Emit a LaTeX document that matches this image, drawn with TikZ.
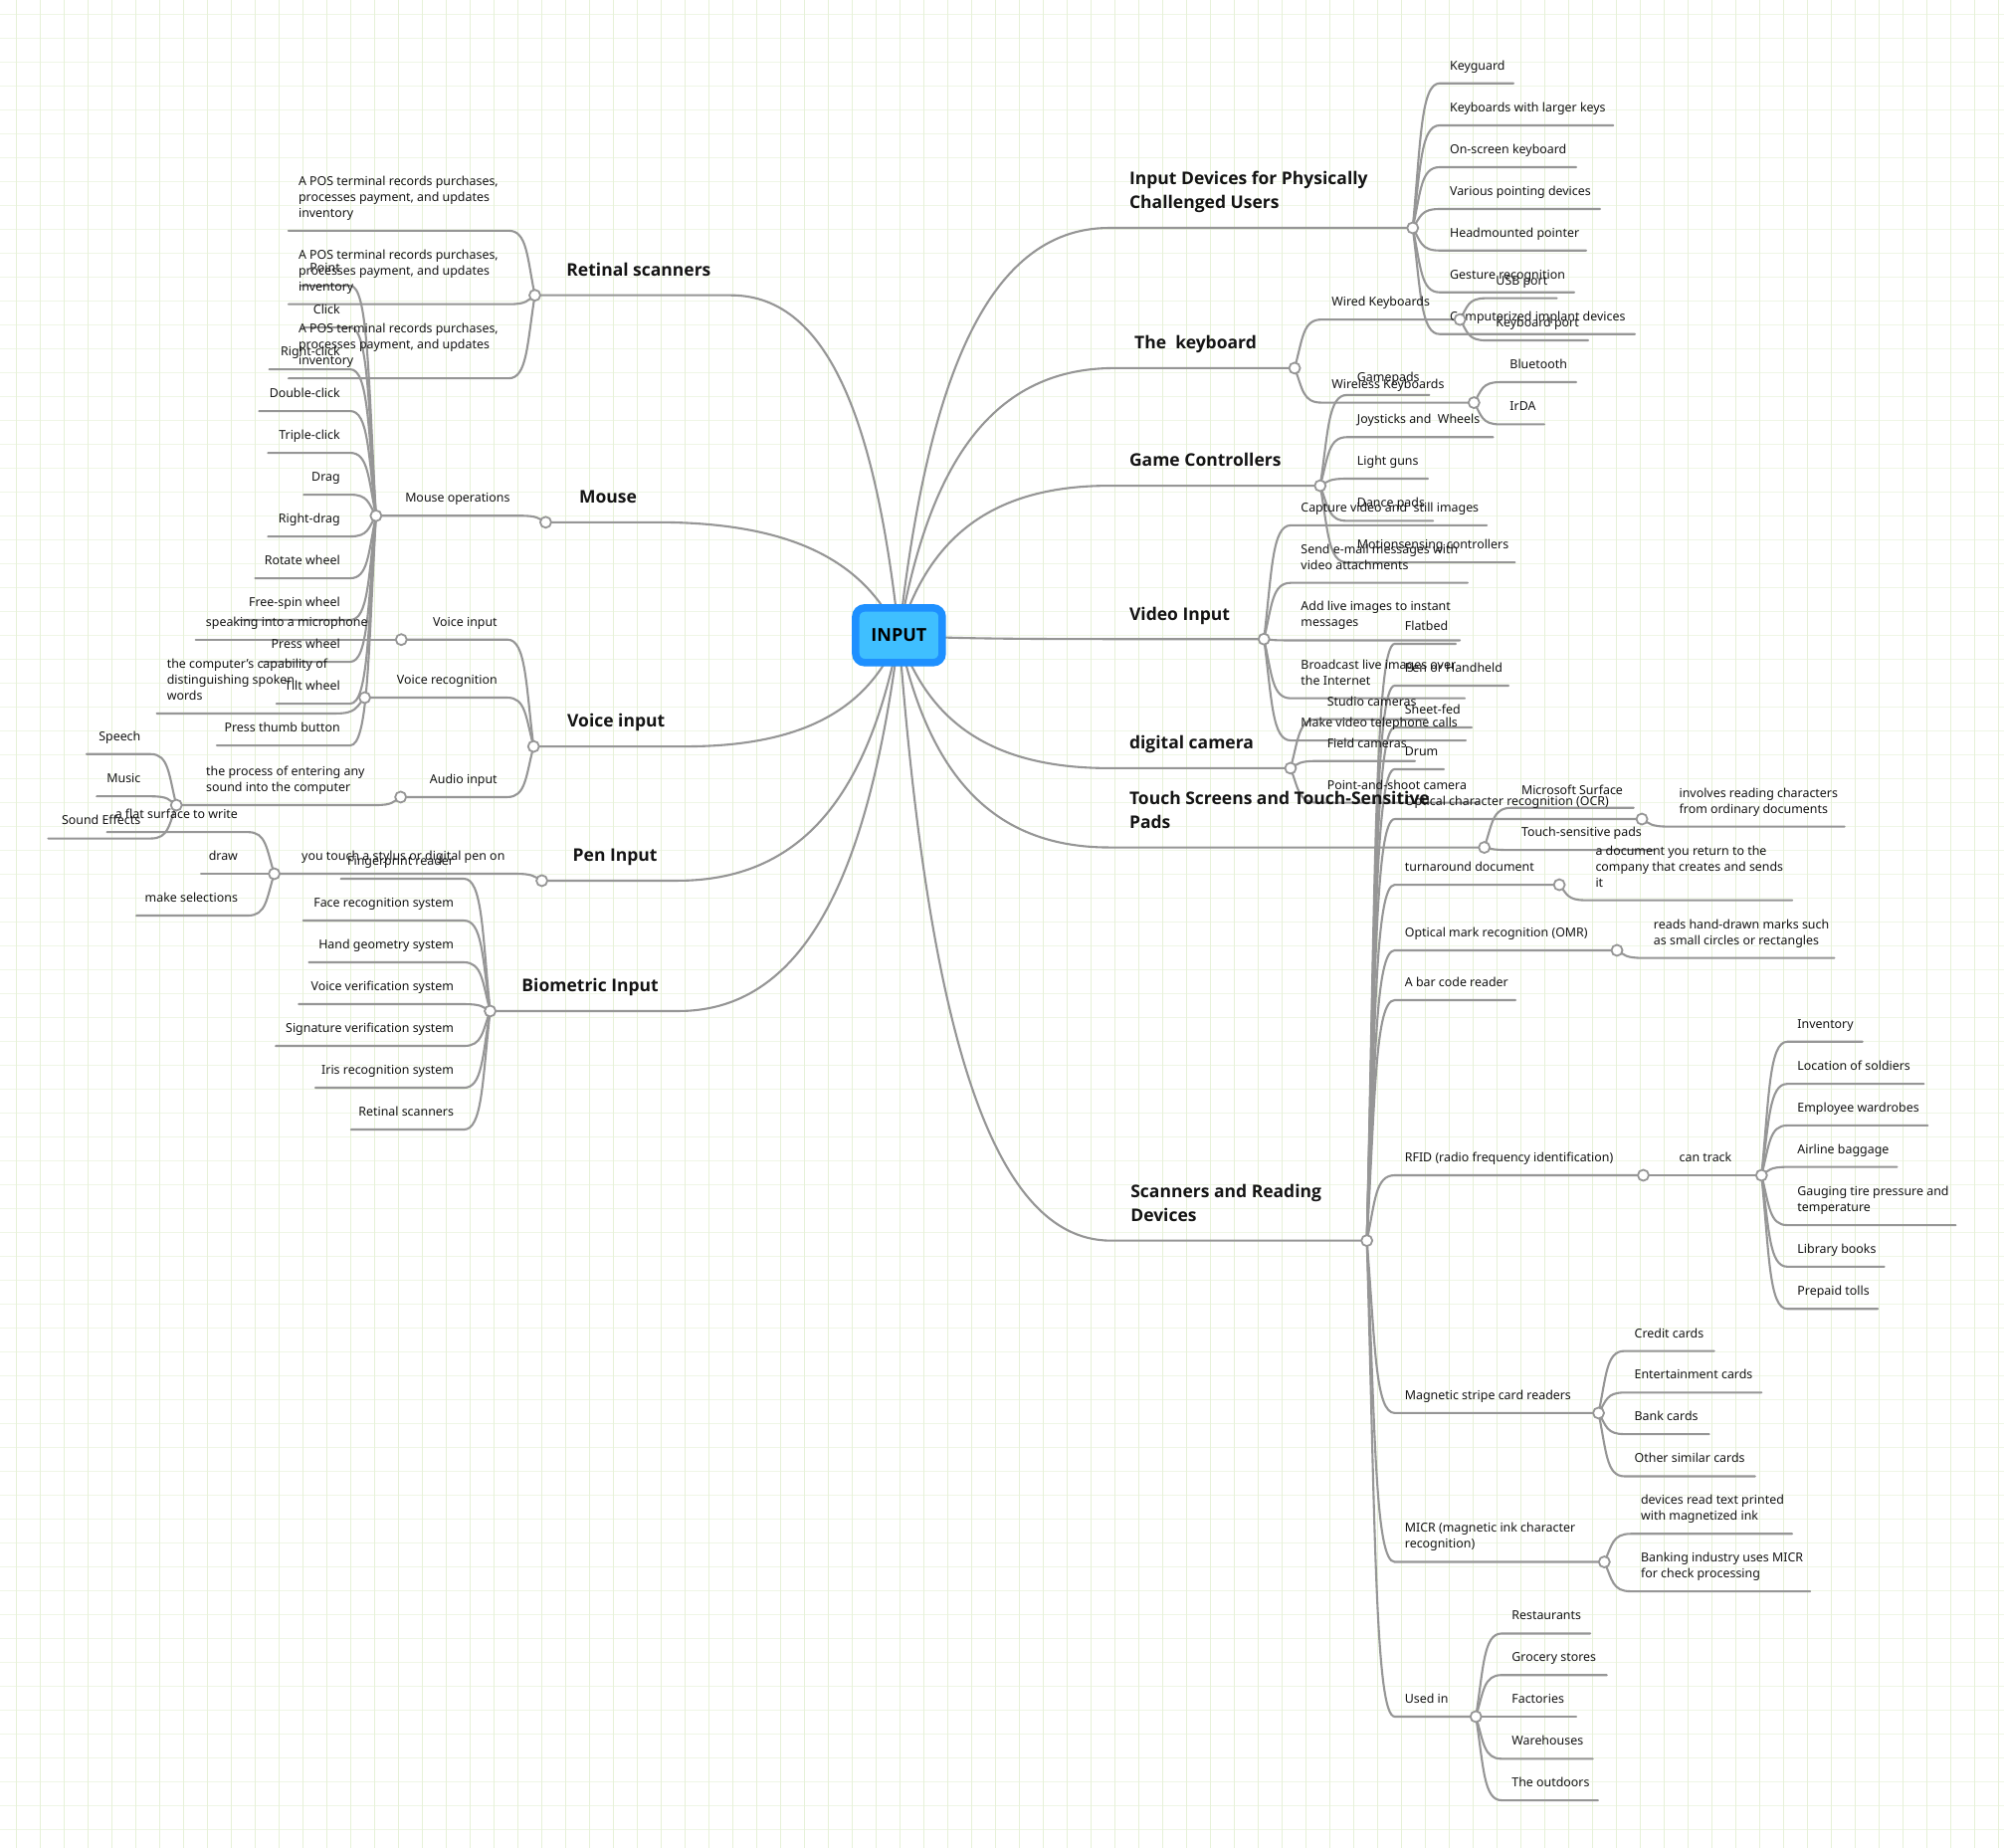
\documentclass[tikz,border=0pt]{standalone}
\usepackage{fontspec}
\setmainfont{Noto Sans}
\newfontfamily\topicfont{Open Sans}
\usepackage{xcolor}
\definecolor{input-blue}{HTML}{1E90FF}
\definecolor{input-sky}{HTML}{3FBFFF}
\definecolor{link-gray}{HTML}{969696}
\definecolor{grid-green}{HTML}{E6F1D8}
\definecolor{grid-pale}{HTML}{EFF6E6}
\definecolor{ink-black}{HTML}{141414}
\usepackage{tikz}
\usetikzlibrary{calc,backgrounds}

\tikzset{
  rootbox/.style={draw=input-blue,fill=input-sky,line width=7.5pt,rounded corners=9pt,
    minimum width=87pt,minimum height=55pt,inner sep=0pt,text=black,font=\fontsize{18}{24}\topicfont\bfseries},
  topic/.style={inner xsep=20pt,inner ysep=11.7pt,text=ink-black,font=\fontsize{17.5}{24}\topicfont\bfseries},
  leaf/.style={inner xsep=10pt,inner ysep=8.6pt,text=ink-black,font=\fontsize{12.4}{16}\selectfont},
  junc/.style={circle,draw=link-gray,fill=white,line width=1.8pt,minimum size=11pt,inner sep=0pt},
  link/.style={draw=link-gray,line width=2.1pt,line cap=round},
  gridline/.style={line width=1.2pt}
}

% bent connector: from a junction, round to a corner of the text, along its foot
\newcommand{\bendlink}[3]{%
  \begin{scope}[on background layer]
    \draw[link] let \p1=(#1.center),\p2=(#2) in (\p1)
      .. controls ({\x1+0.3*(\x2-\x1)},{\y1+0.6*(\y2-\y1)}) and ({\x1+0.3*(\x2-\x1)},\y2) .. (\p2) -- (#3);
  \end{scope}}
% leaves: [align]{name}{parent}{near x}{far x}{y}{text}
\newcommand{\leafR}[7][l]{%
  \pgfmathsetlengthmacro{\leafw}{(#5-#4)*1.2844-20}%
  \node[leaf,anchor=south west] (#2) at (#4,#6) {\makebox[\leafw][#1]{\begin{tabular}{@{}l@{}}#7\end{tabular}}};
  \bendlink{#3}{#2.south west}{#2.south east}}
\newcommand{\leafL}[7][r]{%
  \pgfmathsetlengthmacro{\leafw}{(#4-#5)*1.2844-20}%
  \node[leaf,anchor=south east] (#2) at (#4,#6) {\makebox[\leafw][#1]{\begin{tabular}{@{}l@{}}#7\end{tabular}}};
  \bendlink{#3}{#2.south east}{#2.south west}}
% main branches: {name}{near x}{junction x}{y}{text}
\newcommand{\topicR}[5]{%
  \node[topic,anchor=south west] (#1) at (#2,#4) {\begin{tabular}{@{}l@{}}#5\end{tabular}};
  \node[junc] (#1j) at (#3,#4) {};
  \begin{scope}[on background layer]
    \draw[link] let \p1=(root.center),\p2=(#1.south west) in (\p1)
      .. controls ({\x1+0.13*(\x2-\x1)},{\y1+0.6*(\y2-\y1)}) and ({\x1+0.4*(\x2-\x1)},\y2) .. (\p2) -- (#1j.center);
  \end{scope}}
\newcommand{\topicL}[5]{%
  \node[topic,anchor=south east] (#1) at (#2,#4) {\begin{tabular}{@{}l@{}}#5\end{tabular}};
  \node[junc] (#1j) at (#3,#4) {};
  \begin{scope}[on background layer]
    \draw[link] let \p1=(root.center),\p2=(#1.south east) in (\p1)
      .. controls ({\x1+0.13*(\x2-\x1)},{\y1+0.6*(\y2-\y1)}) and ({\x1+0.4*(\x2-\x1)},\y2) .. (\p2) -- (#1j.center);
  \end{scope}}

\begin{document}
\begin{tikzpicture}[x=1.2844pt,y=-1.2844pt]

  \useasboundingbox (0pt,0pt) rectangle (2014pt,-1857pt);

  % Draw the paper and its grid
  \begin{scope}[on background layer]
    \fill[white] (0pt,0pt) rectangle (2014pt,-1857pt);
    \foreach \gy in {0,...,76} \draw[gridline,grid-pale] (0pt,{(-14.7-24*\gy)*1pt}) -- (2014pt,{(-14.7-24*\gy)*1pt});
    \foreach \gx in {0,...,83} \draw[gridline,grid-green] ({(16.3+24*\gx)*1pt},0pt) -- ({(16.3+24*\gx)*1pt},-1857pt);
  \end{scope}

  % Centre
  \node[rootbox] (root) at (703.4,497) {INPUT};

  % Input devices for physically challenged users
  \topicR{dev}{868}{1105.4}{178.3}{Input Devices for Physically\\Challenged Users}
  \leafR{guard}{devj}{1126.5}{1184}{65.2}{Keyguard}
  \leafR{larger}{devj}{1126.5}{1262}{98.1}{Keyboards with larger keys}
  \leafR{screen}{devj}{1126.5}{1233}{130.8}{On-screen keyboard}
  \leafR{pointing}{devj}{1126.5}{1251.7}{163.5}{Various pointing devices}
  \leafR{head}{devj}{1126.5}{1240.8}{196}{Headmounted pointer}
  \leafR{gesture}{devj}{1126.5}{1231.5}{228.7}{Gesture recognition}
  \leafR{implant}{devj}{1126.5}{1279}{261.4}{Computerized implant devices}

  % The keyboard
  \topicR{keyb}{872}{1013}{288}{The\ \ keyboard}
  \leafR{wired}{keybj}{1034}{1142}{250}{Wired Keyboards}
  \node[junc] (wiredj) at (wired.south east) {};
  \leafR{usb}{wiredj}{1162.6}{1217.8}{233.3}{USB port}
  \leafR{kport}{wiredj}{1162.6}{1242.4}{266.3}{Keyboard port}
  \leafR{wireless}{keybj}{1034}{1153}{315}{Wireless Keyboards}
  \node[junc] (wirelessj) at (wireless.south east) {};
  \leafR{blue}{wirelessj}{1173.5}{1233}{299}{Bluetooth}
  \leafR{irda}{wirelessj}{1173.5}{1208}{332}{IrDA}

  % Game controllers
  \topicR{game}{868}{1033}{380}{Game Controllers}
  \leafR{pads}{gamej}{1054}{1118}{309}{Gamepads}
  \leafR{sticks}{gamej}{1054}{1168}{342}{Joysticks and\ \ Wheels}
  \leafR{guns}{gamej}{1054}{1117}{374.5}{Light guns}
  \leafR{dance}{gamej}{1054}{1121}{407.5}{Dance pads}
  \leafR{motion}{gamej}{1054}{1185}{440}{Motionsensing controllers}

  % Video input
  \topicR{video}{868}{989}{500}{Video Input}
  \leafR{capture}{videoj}{1010}{1163}{411}{Capture video and\ \ still images}
  \leafR{mail}{videoj}{1010}{1148}{456}{Send e-mail messages with\\video attachments}
  \leafR{live}{videoj}{1010}{1142}{501}{Add live images to instant\\messages}
  \leafR{broad}{videoj}{1010}{1145.8}{546.3}{Broadcast live images over\\the Internet}
  \leafR{phone}{videoj}{1010}{1146.6}{579.3}{Make video telephone calls}

  % Digital camera
  \topicR{cam}{868}{1009.8}{601}{digital camera}
  \leafR{studio}{camj}{1030.5}{1116}{562.7}{Studio cameras}
  \leafR{field}{camj}{1030.5}{1106.9}{595.4}{Field cameras}
  \leafR{shoot}{camj}{1030.5}{1157}{628}{Point-and-shoot camera}

  % Touch screens
  \topicR{touch}{868}{1161.4}{663}{Touch Screens and Touch-Sensitive\\Pads}
  \leafR{surface}{touchj}{1182.5}{1278}{632}{Microsoft Surface}
  \leafR{tpads}{touchj}{1182.5}{1294}{665}{Touch-sensitive pads}

  % Scanners and reading devices
  \topicR{scan}{869}{1069.5}{970.6}{Scanners and Reading\\Devices}
  \leafR{flat}{scanj}{1091.3}{1138.8}{503.7}{Flatbed}
  \leafR{pen}{scanj}{1091.3}{1180}{536.4}{Pen or Handheld}
  \leafR{sheet}{scanj}{1091.3}{1151.3}{569.1}{Sheet-fed}
  \leafR{drum}{scanj}{1091.3}{1129.4}{601.8}{Drum}
  \leafR{ocr}{scanj}{1091.3}{1284.4}{640.8}{Optical character recognition (OCR)}
  \node[junc] (ocrj) at (ocr.south east) {};
  \leafR{ordinary}{ocrj}{1306}{1443}{646.7}{involves reading characters\\from ordinary documents}
  \leafR{turn}{scanj}{1091.3}{1219.8}{692.2}{turnaround document}
  \node[junc] (turnj) at (turn.south east) {};
  \leafR{returned}{turnj}{1240.5}{1402}{704.3}{a document you return to the\\company that creates and sends\\it}
  \leafR{omr}{scanj}{1091.3}{1264.9}{743.5}{Optical mark recognition (OMR)}
  \node[junc] (omrj) at (omr.south east) {};
  \leafR{marks}{omrj}{1286}{1435}{749.5}{reads hand-drawn marks such\\as small circles or rectangles}
  \leafR{bar}{scanj}{1091.3}{1185.5}{782.5}{A bar code reader}

  % RFID
  \leafR{rfid}{scanj}{1091.3}{1285.5}{919.5}{RFID (radio frequency identification)}
  \node[junc] (rfidj) at (rfid.south east) {};
  \leafR{track}{rfidj}{1306}{1378}{919.5}{can track}
  \node[junc] (trackj) at (track.south east) {};
  \leafR{stock}{trackj}{1398.5}{1457}{815}{Inventory}
  \leafR{soldier}{trackj}{1398.5}{1505}{848}{Location of soldiers}
  \leafR{wardrobe}{trackj}{1398.5}{1508}{880.5}{Employee wardrobes}
  \leafR{baggage}{trackj}{1398.5}{1484}{913}{Airline baggage}
  \leafR{tire}{trackj}{1398.5}{1530}{958.5}{Gauging tire pressure and\\temperature}
  \leafR{books}{trackj}{1398.5}{1474}{991}{Library books}
  \leafR{tolls}{trackj}{1398.5}{1469}{1024}{Prepaid tolls}

  % Magnetic stripe and MICR
  \leafR{stripe}{scanj}{1091.3}{1250.5}{1105.5}{Magnetic stripe card readers}
  \node[junc] (stripej) at (stripe.south east) {};
  \leafR{credit}{stripej}{1271}{1341}{1057}{Credit cards}
  \leafR{enter}{stripej}{1271}{1378}{1089.5}{Entertainment cards}
  \leafR{bank}{stripej}{1271}{1337}{1122}{Bank cards}
  \leafR{similar}{stripej}{1271}{1373}{1155}{Other similar cards}
  \leafR{micr}{scanj}{1091.3}{1255}{1222}{MICR (magnetic ink character\\recognition)}
  \node[junc] (micrj) at (micr.south east) {};
  \leafR{printed}{micrj}{1276}{1402}{1200}{devices read text printed\\with magnetized ink}
  \leafR{banking}{micrj}{1276}{1416}{1245}{Banking industry uses MICR\\for check processing}

  % Used in
  \leafR{used}{scanj}{1091.3}{1154.5}{1343}{Used in}
  \node[junc] (usedj) at (used.south east) {};
  \leafR{rest}{usedj}{1175}{1244}{1278}{Restaurants}
  \leafR{grocery}{usedj}{1175}{1257}{1310.5}{Grocery stores}
  \leafR{fact}{usedj}{1175}{1233}{1343}{Factories}
  \leafR{ware}{usedj}{1175}{1246}{1376}{Warehouses}
  \leafR{out}{usedj}{1175}{1250}{1408.5}{The outdoors}

  % Retinal scanners
  \topicL{ret}{572}{418.5}{231}{Retinal scanners}
  \leafL[l]{posa}{retj}{398}{226}{180.5}{A POS terminal records purchases,\\processes payment, and updates\\inventory}
  \leafL[l]{posb}{retj}{398}{226}{238}{A POS terminal records purchases,\\processes payment, and updates\\inventory}
  \leafL[l]{posc}{retj}{398}{226}{296}{A POS terminal records purchases,\\processes payment, and updates\\inventory}

  % Mouse
  \topicL{mouse}{514}{427}{408.6}{Mouse}
  \leafL{mops}{mousej}{407}{294.5}{403.5}{Mouse operations}
  \node[junc] (mopsj) at (mops.south west) {};
  \leafL{point}{mopsj}{274}{236}{223.5}{Point}
  \leafL{click}{mopsj}{274}{237}{256.2}{Click}
  \leafL{rclick}{mopsj}{274}{211}{288.9}{Right-click}
  \leafL{dclick}{mopsj}{274}{203}{321.6}{Double-click}
  \leafL{tclick}{mopsj}{274}{210}{354.3}{Triple-click}
  \leafL{drag}{mopsj}{274}{238}{387}{Drag}
  \leafL{rdrag}{mopsj}{274}{210}{419.7}{Right-drag}
  \leafL{rotate}{mopsj}{274}{200}{452.4}{Rotate wheel}
  \leafL{spin}{mopsj}{274}{187}{485}{Free-spin wheel}
  \leafL{pressw}{mopsj}{274}{205}{517.8}{Press wheel}
  \leafL{tilt}{mopsj}{274}{216.6}{550.5}{Tilt wheel}
  \leafL{thumb}{mopsj}{274}{170}{583.2}{Press thumb button}

  % Voice input
  \topicL{voice}{536}{417.5}{584}{Voice input}
  \leafL{vin}{voicej}{397}{314.3}{500.4}{Voice input}
  \node[junc] (vinj) at (vin.south west) {};
  \leafL[l]{micro}{vinj}{293}{153.5}{500.4}{speaking into a microphone}
  \leafL{vrec}{voicej}{397}{285.7}{545.8}{Voice recognition}
  \node[junc] (vrecj) at (vrec.south west) {};
  \leafL[l]{spoken}{vrecj}{263}{123}{558.2}{the computer’s capability of\\distinguishing spoken\\words}
  \leafL{audio}{voicej}{397}{313.8}{623.6}{Audio input}
  \node[junc] (audioj) at (audio.south west) {};
  \leafL{sound}{audioj}{293.3}{138.3}{629.9}{the process of entering any\\sound into the computer}
  \node[junc] (soundj) at (sound.south west) {};
  \leafL{speech}{soundj}{118}{68}{590}{Speech}
  \leafL{music}{soundj}{118}{76}{623}{Music}
  \leafL{effects}{soundj}{118}{38}{656}{Sound Effects}

  % Pen input
  \topicL{peni}{530}{424}{689}{Pen Input}
  \leafL{stylus}{penij}{403}{214.9}{683.6}{you touch a stylus or digital pen on}
  \node[junc] (stylusj) at (stylus.south west) {};
  \leafL{flats}{stylusj}{194}{84}{651}{a flat surface to write}
  \leafL{draw}{stylusj}{194}{157.6}{683.6}{draw}
  \leafL{selec}{stylusj}{194}{107}{716.3}{make selections}

  % Biometric input
  \topicL{bio}{531}{383.5}{791}{Biometric Input}
  \leafL{finger}{bioj}{363}{267}{687.5}{Fingerprint reader}
  \leafL{face}{bioj}{363}{237.5}{720.2}{Face recognition system}
  \leafL{hand}{bioj}{363}{242}{752.9}{Hand geometry system}
  \leafL{vver}{bioj}{363}{234}{785.6}{Voice verification system}
  \leafL{sign}{bioj}{363}{216}{818.3}{Signature verification system}
  \leafL{iris}{bioj}{363}{247}{851}{Iris recognition system}
  \leafL{retina}{bioj}{363}{275}{883.7}{Retinal scanners}

\end{tikzpicture}
\end{document}
